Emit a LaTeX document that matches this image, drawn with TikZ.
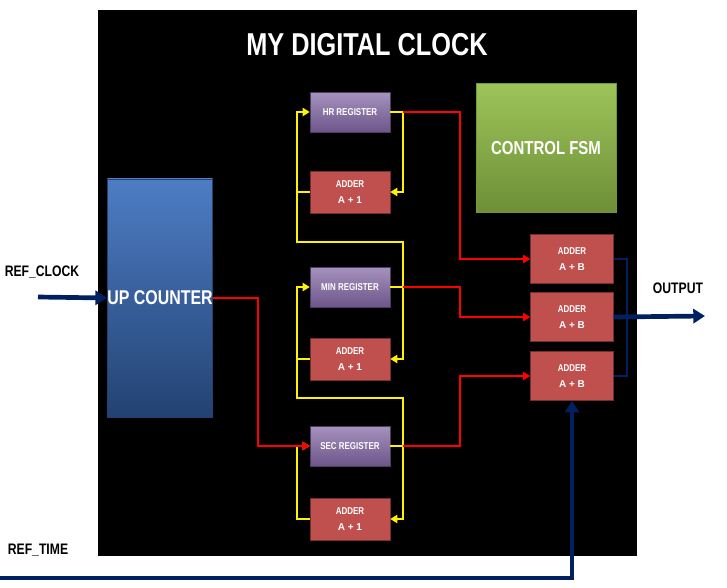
\documentclass[tikz,border=0pt]{standalone}
\usepackage{fontspec}
\setmainfont{Liberation Sans}
\usetikzlibrary{arrows.meta}
\definecolor{regpurple}{RGB}{128,100,162}
\definecolor{addred}{RGB}{192,80,77}
\definecolor{ucblue}{RGB}{58,110,190}
\definecolor{fsmgreen}{RGB}{146,190,72}
\definecolor{navy}{RGB}{0,32,96}
\newcommand{\narrow}[1]{\scalebox{0.8}[1]{#1}}

\begin{document}
\begin{tikzpicture}[x=0.03cm, y=-0.03cm, font=\bfseries, >={Triangle[length=6pt,width=7pt]},
  reg/.style={draw=regpurple!60!black, top color=regpurple!70!white, bottom color=regpurple!85!black,
    text=white, minimum width=2.4cm, minimum height=1.2cm, font=\bfseries\fontsize{8.5}{9}\selectfont},
  addone/.style={draw=addred!60!black, fill=addred, text=white, align=center,
    minimum width=2.4cm, minimum height=1.26cm, font=\bfseries\fontsize{8.5}{13}\selectfont},
  addab/.style={addone, minimum width=2.49cm, minimum height=1.47cm},
  fb/.style={yellow, very thick},
  dat/.style={red, very thick},
  bus/.style={navy, line width=4pt, -{Triangle[length=10pt,width=12pt]}}]

      \useasboundingbox (0,0) rectangle (727,587);
      \fill [black] (98,10) rectangle (637,556);
      \node [text=white, font=\bfseries\fontsize{27}{28}\selectfont] (title) at (367,45) {\narrow{MY DIGITAL CLOCK}};

      \node [draw=ucblue!60!black, top color=ucblue!90!white, bottom color=ucblue!60!black, text=white,
        inner sep=0pt, minimum width=2.85cm, minimum height=7.14cm, font=\bfseries\fontsize{17}{18}\selectfont]
        (upc) at (160,298) {\narrow{UP COUNTER}};
      \node [draw=fsmgreen!80!black, top color=fsmgreen!90!white, bottom color=fsmgreen!75!black, text=white,
        minimum width=4.2cm, minimum height=3.87cm, font=\bfseries\fontsize{16}{18}\selectfont]
        (fsm) at (546,148) {\narrow{CONTROL FSM}};

      % registers and increment adders
      \node [reg] (hr) at (350,112) {\narrow{HR REGISTER}};
      \node [addone] (hradd) at (350,192) {\narrow{ADDER}\\A + 1};
      \node [reg] (min) at (350,287) {\narrow{MIN REGISTER}};
      \node [addone] (minadd) at (350,359) {\narrow{ADDER}\\A + 1};
      \node [reg] (sec) at (350,446) {\narrow{SEC REGISTER}};
      \node [addone] (secadd) at (350,519) {\narrow{ADDER}\\A + 1};

      % output adders
      \node [addab] (sumA) at (572,259) {\narrow{ADDER}\\A + B};
      \node [addab] (sumB) at (572,317) {\narrow{ADDER}\\A + B};
      \node [addab] (sumC) at (572,376) {\narrow{ADDER}\\A + B};

      % feedback loops
      \draw [fb, ->] (hr.east) -| (403,192) -- (hradd.east);
      \draw [fb, ->] (hradd.west) -| (297,112) -- (hr.west);
      \draw [fb, ->] (297,192) |- (403,242) |- (minadd.east);
      \draw [fb] (min.east) -- (403,287);
      \draw [fb, ->] (minadd.west) -| (297,287) -- (min.west);
      \draw [fb, ->] (297,359) |- (403,398) |- (secadd.east);
      \draw [fb] (sec.east) -- (403,446);
      \draw [fb, ->] (secadd.west) -| (297,446) -- (sec.west);

      % data paths
      \draw [dat, ->] (upc.east) -| (258,446) -- (sec.west);
      \draw [dat, ->] (403,112) -| (460,259) -- (sumA.west);
      \draw [dat, ->] (403,287) -| (460,317) -- (sumB.west);
      \draw [dat, ->] (403,446) -| (460,376) -- (sumC.west);

      % outputs and inputs
      \draw [navy, line width=1.5pt] (sumA.east) -| (627,376) -- (sumC.east);
      \coordinate (outend) at (705,316);
      \draw [bus] (sumB.east) -- (outend);
      \node [font=\bfseries\fontsize{13}{14}\selectfont] (outlbl) at (678,288) {\narrow{OUTPUT}};

      \coordinate (clkstart) at (38,297);
      \draw [bus] (clkstart) -- (upc.west);
      \node [font=\bfseries\fontsize{13}{14}\selectfont] (clklbl) at (42,272) {\narrow{REF\_CLOCK}};

      \coordinate (timestart) at (0,578);
      \draw [bus] (timestart) -| (sumC.south);
      \node [font=\bfseries\fontsize{13}{14}\selectfont] (timelbl) at (38,550) {\narrow{REF\_TIME}};

    \end{tikzpicture}
\end{document}
